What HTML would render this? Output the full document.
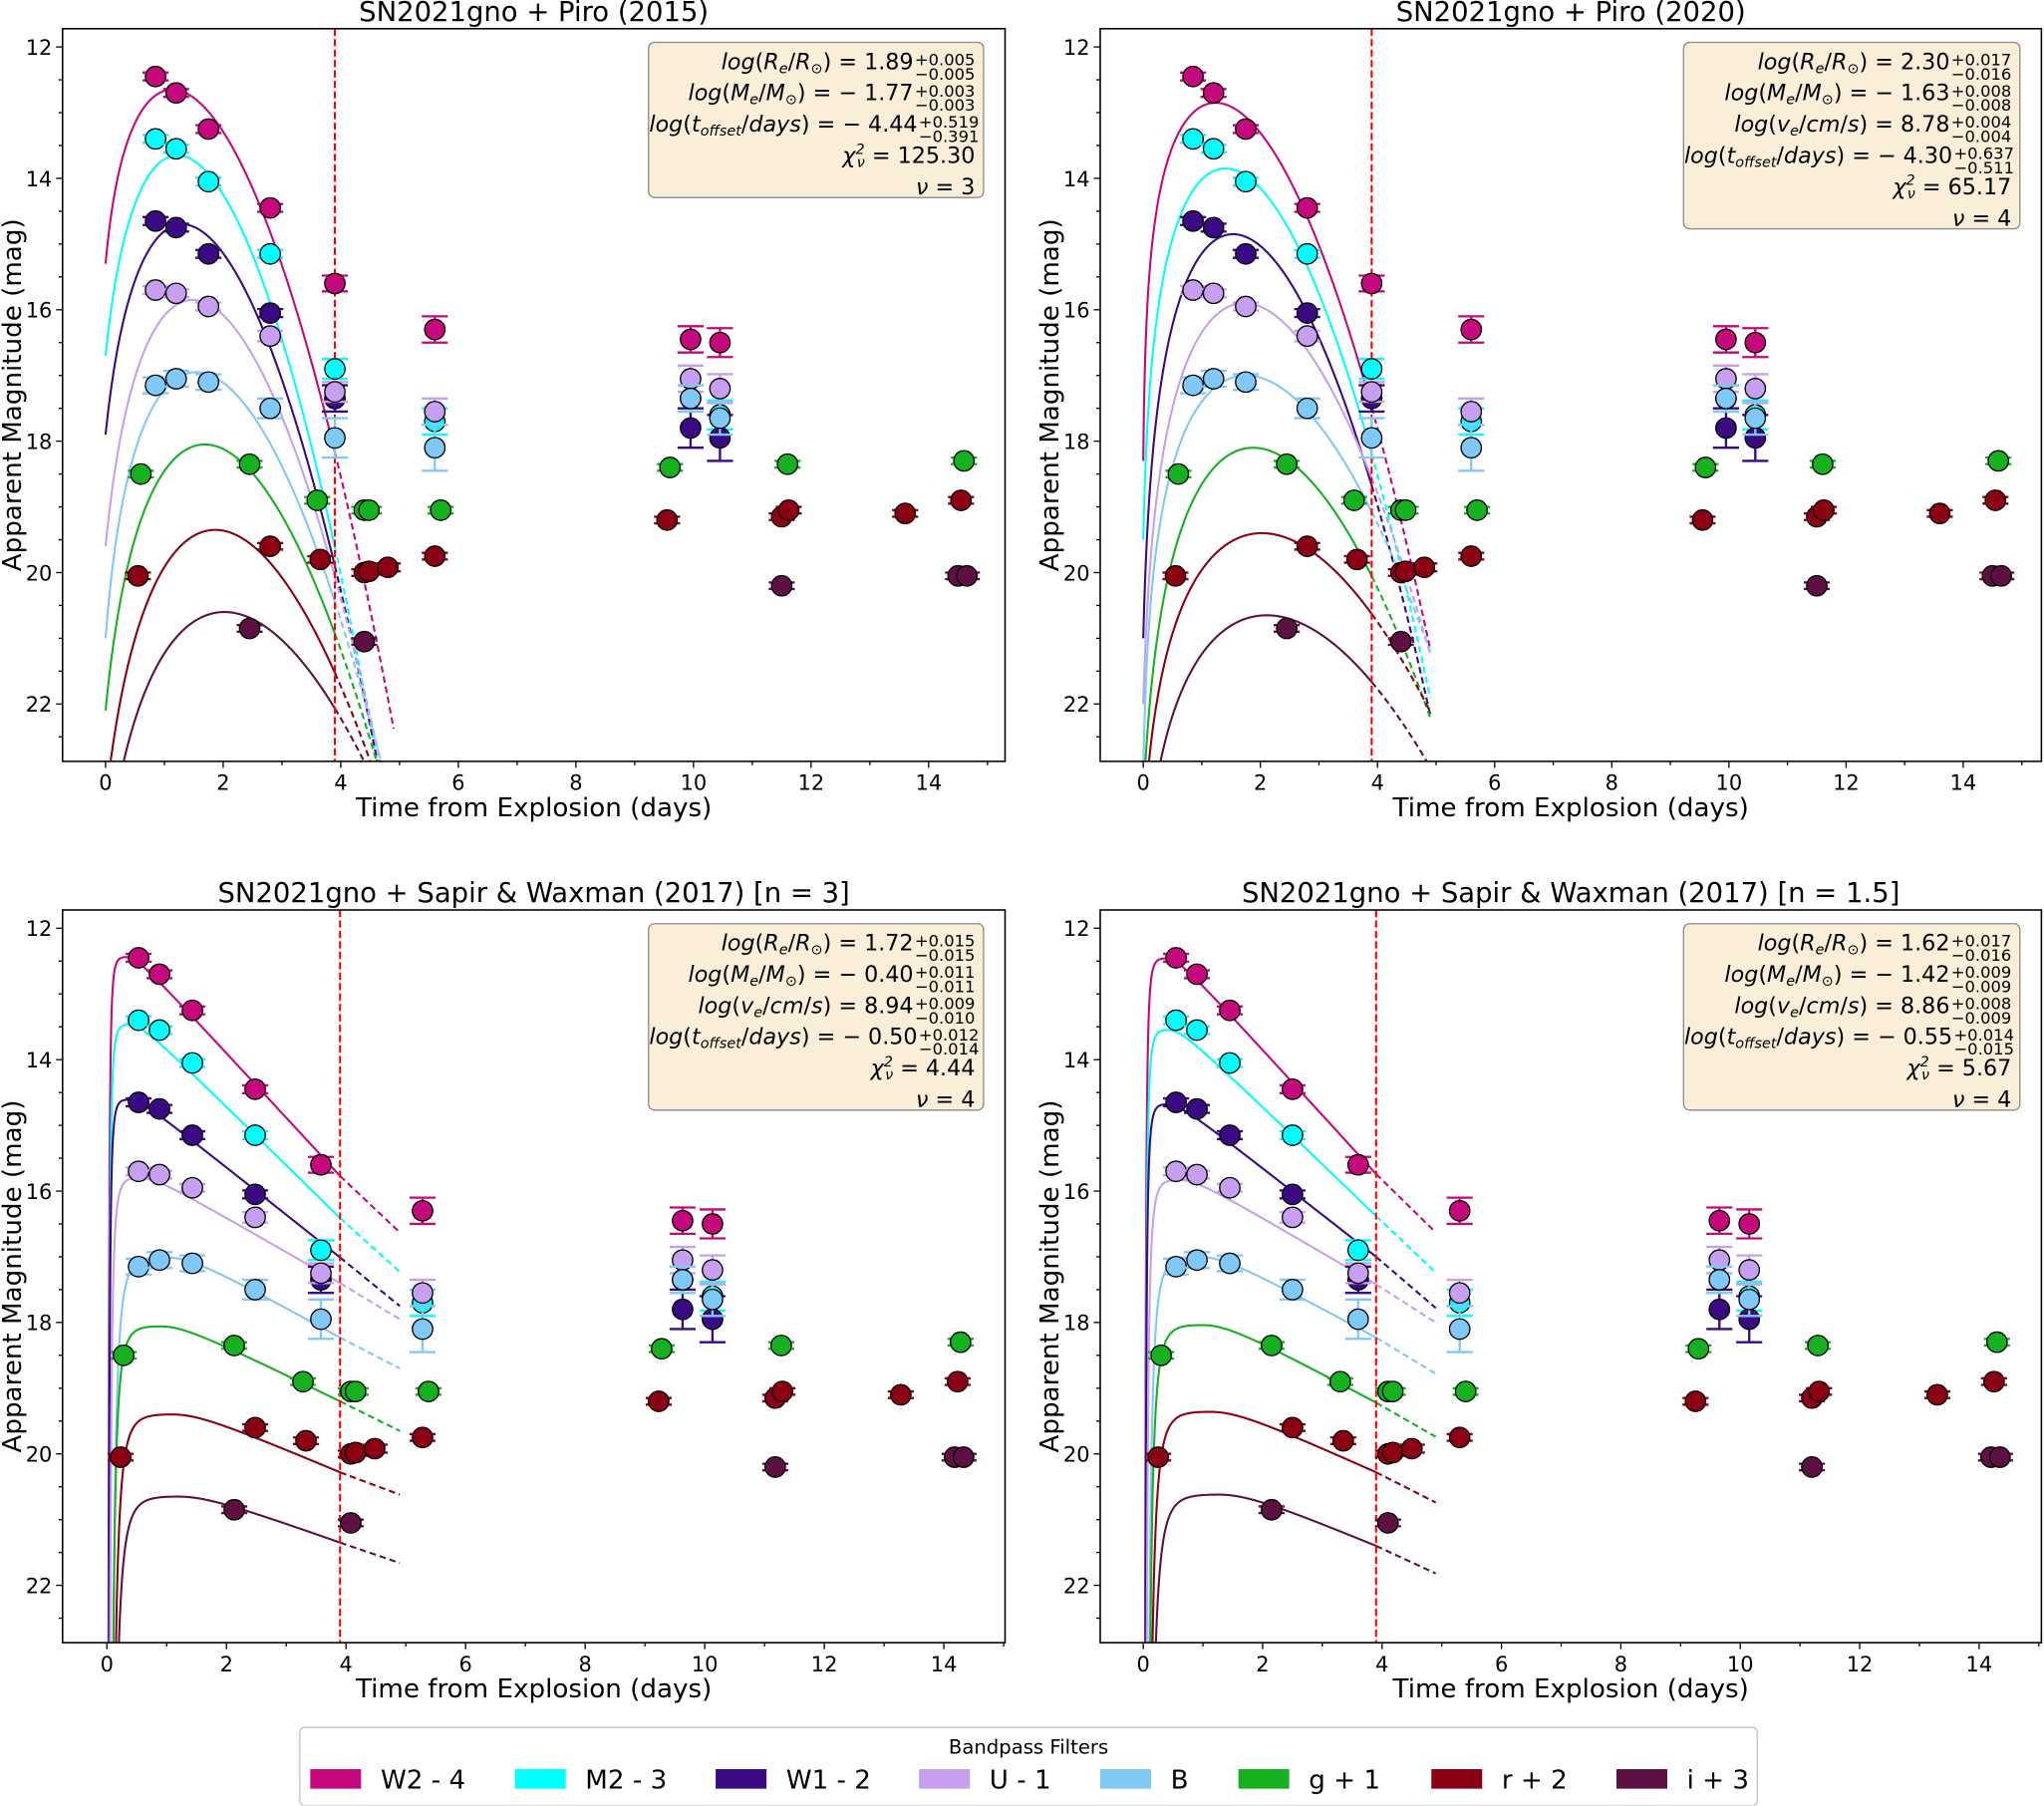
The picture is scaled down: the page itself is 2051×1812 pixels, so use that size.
<!DOCTYPE html>
<html><head><meta charset="utf-8">
<style>
html,body{margin:0;padding:0;background:#fff;}
body{width:2051px;height:1811px;overflow:hidden;position:relative;}
#wrap{position:absolute;left:0;top:0;width:1568px;height:1385px;transform:scale(1.30804);transform-origin:0 0;font-family:"DejaVu Sans","Liberation Sans",sans-serif;}
svg{position:absolute;left:0;top:0;}
.box{position:absolute;background:#faeed9;border:1.3px solid #8a8a8a;border-radius:5px;box-sizing:border-box;text-align:right;padding:3px 6px 0 0;font-size:17px;line-height:24px;color:#000;white-space:nowrap;}
.box i{font-style:italic;}
.ud{display:inline-flex;flex-direction:column;font-size:12.5px;line-height:11px;vertical-align:3px;text-align:left;margin-left:1px;}
.ln{height:24px;}
sub.s{font-size:11px;vertical-align:-3px;line-height:0;}
sup.s{font-size:11px;vertical-align:7px;line-height:0;}
</style></head><body>
<div id="wrap">
<svg id="sv" width="1568" height="1385" viewBox="0 0 1568 1385" xmlns="http://www.w3.org/2000/svg"></svg>

<div class="box" style="left:497px;top:32px;width:258px;height:120px;">
<div class="ln"><i>log</i>(<i>R<sub class="s">e</sub></i>/<i>R</i><sub class="s">⊙</sub>) = 1.89<span class="ud"><span>+0.005</span><span>−0.005</span></span></div>
<div class="ln"><i>log</i>(<i>M<sub class="s">e</sub></i>/<i>M</i><sub class="s">⊙</sub>) = − 1.77<span class="ud"><span>+0.003</span><span>−0.003</span></span></div>
<div class="ln"><i>log</i>(<i>t<sub class="s">offset</sub></i>/<i>days</i>) = − 4.44<span class="ud"><span>+0.519</span><span>−0.391</span></span></div>
<div class="ln"><i>χ<sup class="s">2</sup><sub class="s" style="margin-left:-6px">ν</sub></i> = 125.30</div>
<div class="ln"><i>ν</i> = 3</div>
</div>

<div class="box" style="left:1291px;top:32px;width:259px;height:144px;">
<div class="ln"><i>log</i>(<i>R<sub class="s">e</sub></i>/<i>R</i><sub class="s">⊙</sub>) = 2.30<span class="ud"><span>+0.017</span><span>−0.016</span></span></div>
<div class="ln"><i>log</i>(<i>M<sub class="s">e</sub></i>/<i>M</i><sub class="s">⊙</sub>) = − 1.63<span class="ud"><span>+0.008</span><span>−0.008</span></span></div>
<div class="ln"><i>log</i>(<i>v<sub class="s">e</sub></i>/<i>cm</i>/<i>s</i>) = 8.78<span class="ud"><span>+0.004</span><span>−0.004</span></span></div>
<div class="ln"><i>log</i>(<i>t<sub class="s">offset</sub></i>/<i>days</i>) = − 4.30<span class="ud"><span>+0.637</span><span>−0.511</span></span></div>
<div class="ln"><i>χ<sup class="s">2</sup><sub class="s" style="margin-left:-6px">ν</sub></i> = 65.17</div>
<div class="ln"><i>ν</i> = 4</div>
</div>

<div class="box" style="left:497px;top:708px;width:258px;height:144px;">
<div class="ln"><i>log</i>(<i>R<sub class="s">e</sub></i>/<i>R</i><sub class="s">⊙</sub>) = 1.72<span class="ud"><span>+0.015</span><span>−0.015</span></span></div>
<div class="ln"><i>log</i>(<i>M<sub class="s">e</sub></i>/<i>M</i><sub class="s">⊙</sub>) = − 0.40<span class="ud"><span>+0.011</span><span>−0.011</span></span></div>
<div class="ln"><i>log</i>(<i>v<sub class="s">e</sub></i>/<i>cm</i>/<i>s</i>) = 8.94<span class="ud"><span>+0.009</span><span>−0.010</span></span></div>
<div class="ln"><i>log</i>(<i>t<sub class="s">offset</sub></i>/<i>days</i>) = − 0.50<span class="ud"><span>+0.012</span><span>−0.014</span></span></div>
<div class="ln"><i>χ<sup class="s">2</sup><sub class="s" style="margin-left:-6px">ν</sub></i> = 4.44</div>
<div class="ln"><i>ν</i> = 4</div>
</div>

<div class="box" style="left:1291px;top:708px;width:259px;height:144px;">
<div class="ln"><i>log</i>(<i>R<sub class="s">e</sub></i>/<i>R</i><sub class="s">⊙</sub>) = 1.62<span class="ud"><span>+0.017</span><span>−0.016</span></span></div>
<div class="ln"><i>log</i>(<i>M<sub class="s">e</sub></i>/<i>M</i><sub class="s">⊙</sub>) = − 1.42<span class="ud"><span>+0.009</span><span>−0.009</span></span></div>
<div class="ln"><i>log</i>(<i>v<sub class="s">e</sub></i>/<i>cm</i>/<i>s</i>) = 8.86<span class="ud"><span>+0.008</span><span>−0.009</span></span></div>
<div class="ln"><i>log</i>(<i>t<sub class="s">offset</sub></i>/<i>days</i>) = − 0.55<span class="ud"><span>+0.014</span><span>−0.015</span></span></div>
<div class="ln"><i>χ<sup class="s">2</sup><sub class="s" style="margin-left:-6px">ν</sub></i> = 5.67</div>
<div class="ln"><i>ν</i> = 4</div>
</div>
</div>

<script>
(function(){
var sv=document.getElementById('sv');
var out=[];
var C={W2:'#c5087c',M2:'#00ffff',W1:'#3a0a85',U:'#c6a0ee',B:'#80c8f6',g:'#16b020',r:'#8b0012',i:'#5e1042'};
var bands=['W2','M2','W1','U','B','g','r','i'];
var D={
W2:[[0.85,12.45,.06],[1.2,12.7,.06],[1.75,13.25,.06],[2.8,14.45,.06],[3.9,15.6,.12],[5.6,16.3,.2],[9.95,16.45,.2],[10.45,16.5,.22]],
M2:[[0.85,13.4,.06],[1.2,13.55,.06],[1.75,14.05,.06],[2.8,15.15,.06],[3.9,16.9,.15],[5.6,17.7,.2],[9.95,17.35,.2],[10.45,17.6,.22]],
W1:[[0.85,14.65,.06],[1.2,14.75,.06],[1.75,15.15,.06],[2.8,16.05,.06],[3.9,17.35,.2],[9.95,17.8,.3],[10.45,17.95,.35]],
U:[[0.85,15.7,.06],[1.2,15.75,.06],[1.75,15.95,.06],[2.8,16.4,.08],[3.9,17.25,.15],[5.6,17.55,.2],[9.95,17.05,.2],[10.45,17.2,.22]],
B:[[0.85,17.15,.12],[1.2,17.05,.12],[1.75,17.1,.12],[2.8,17.5,.15],[3.9,17.95,.3],[5.6,18.1,.35],[9.95,17.35,.2],[10.45,17.65,.25]],
g:[[0.6,18.5,.05],[2.45,18.35,.05],[3.6,18.9,.05],[4.4,19.05,.05],[4.48,19.05,.05],[5.7,19.05,.05],[9.6,18.4,.05],[11.6,18.35,.05],[14.6,18.3,.05]],
r:[[0.55,20.05,.05],[2.8,19.6,.05],[3.65,19.8,.05],[4.4,20.0,.05],[4.48,19.98,.05],[4.8,19.92,.06],[5.6,19.75,.05],[9.55,19.2,.05],[11.5,19.15,.05],[11.62,19.05,.05],[13.6,19.1,.05],[14.55,18.9,.05]],
i:[[2.45,20.85,.05],[4.4,21.05,.05],[11.5,20.2,.05],[14.5,20.05,.05],[14.65,20.05,.05]]
};
var P=[
{L:48,R:771,T:22,B:584,x0:81,xs:45.1,y12:36,ys:50.4,shift:0,title:'SN2021gno + Piro (2015)',type:'piro',
 par:{W2:[12.65,1.3,21.6,15.3],M2:[13.65,1.5,22.9,16.7],W1:[14.7,1.6,22.8,17.9],U:[15.85,1.8,22.5,19.6],B:[16.95,1.75,22.9,21.0],g:[18.05,2.0,22.8,22.1],r:[19.35,2.25,22.9,23.5],i:[20.6,2.4,23.1,24.5]}},
{L:844,R:1566,T:22,B:584,x0:877,xs:44.93,y12:36,ys:50.4,shift:0,title:'SN2021gno + Piro (2020)',type:'piro',
 par:{W2:[12.85,1.25,21.1,18.3],M2:[13.85,1.45,21.7,19.5],W1:[14.85,1.6,21.9,21],U:[15.9,1.8,21.0,22],B:[17.0,1.8,21.1,23],g:[18.1,2.0,21.9,23.5],r:[19.4,2.15,21.9,24],i:[20.65,2.25,22.75,25]}},
{L:48,R:771,T:698,B:1260,x0:82,xs:45.86,y12:712,ys:50.4,shift:-0.32,title:'SN2021gno + Sapir & Waxman (2017) [n = 3]',type:'sw',
 par:{W2:[12.44,0.32,15.77,16.63],M2:[13.47,0.38,16.41,17.23],W1:[14.61,0.36,17.01,17.75],U:[15.8,0.55,17.4,17.95],B:[17.01,1.0,18.23,18.7],g:[18.06,0.9,19.2,19.65],r:[19.4,1.1,20.28,20.62],i:[20.65,1.2,21.35,21.66]}},
{L:844,R:1566,T:698,B:1260,x0:877,xs:45.8,y12:712,ys:50.4,shift:-0.3,title:'SN2021gno + Sapir & Waxman (2017) [n = 1.5]',type:'sw',
 par:{W2:[12.46,0.38,15.74,16.63],M2:[13.55,0.42,16.38,17.24],W1:[14.68,0.4,17.0,17.78],U:[15.83,0.6,17.42,18.0],B:[17.0,0.94,18.23,18.78],g:[18.04,1.0,19.22,19.74],r:[19.36,1.13,20.28,20.74],i:[20.62,1.27,21.4,21.82]}}
];
function piroG(x){return 0.2171*(x*x-1)-Math.log10(x);}
P.forEach(function(p,k){
 var X=function(t){return p.x0+t*p.xs;}, Y=function(m){return p.y12+(m-12)*p.ys;};
 out.push('<clipPath id="c'+k+'"><rect x="'+p.L+'" y="'+p.T+'" width="'+(p.R-p.L)+'" height="'+(p.B-p.T)+'"/></clipPath>');
 out.push('<g clip-path="url(#c'+k+')">');
 bands.forEach(function(b){
  var a=p.par[b], f, ts=[];
  if(p.type=='piro'){
   var mp=a[0],tp=a[1],alpha=(a[2]-mp)/(2.5*piroG(4.9/tp));
   var mg=function(t){return mp+2.5*alpha*piroG(t/tp);};
   var lo=1e-6,hi=tp;
   for(var n=0;n<60;n++){var mid=(lo+hi)/2; if(mg(mid)>a[3])lo=mid;else hi=mid;}
   var t0=lo; f=function(t){return mg(t+t0);};
   for(var j=0;j<=400;j++)ts.push(3.9*j/400);
   var fd=f;
  } else {
   var mp=a[0],tp=a[1],m39=a[2],m49=a[3],w=0.5*tp+0.05,kk=0.09;
   var s=(m39-mp)/(Math.sqrt((3.9-tp)*(3.9-tp)+w*w)-w);
   f=function(t){ if(t<tp){var q=tp/t-1;return mp+kk*q*q;} var d=t-tp;return mp+s*(Math.sqrt(d*d+w*w)-w);};
   var fd=function(t){return m39+(m49-m39)*(t-3.9);};
   for(var j=0;j<=150;j++)ts.push(0.004*Math.pow(tp/0.004,j/150));
   for(var j=1;j<=300;j++)ts.push(tp+(3.9-tp)*j/300);
  }
  var pts=ts.map(function(t){return X(t).toFixed(2)+','+Math.min(Y(f(t)),p.B+50).toFixed(2);});
  var dp=[];
  for(var j=0;j<=50;j++){var t=3.9+j/50;dp.push(X(t).toFixed(2)+','+Math.min(Y(fd(t)),p.B+50).toFixed(2));}
  out.push('<polyline points="'+pts.join(' ')+'" fill="none" stroke="'+C[b]+'" stroke-width="1.6"/>');
  out.push('<polyline points="'+dp.join(' ')+'" fill="none" stroke="'+C[b]+'" stroke-width="1.6" stroke-dasharray="5,3"/>');
 });
 out.push('<line x1="'+X(3.9)+'" y1="'+p.T+'" x2="'+X(3.9)+'" y2="'+p.B+'" stroke="#ff0000" stroke-width="1.6" stroke-dasharray="5.5,2.5"/>');
 bands.forEach(function(b){
  D[b].forEach(function(d){
   var x=X(d[0]+p.shift),y=Y(d[1]),e=d[2]*p.ys;
   out.push('<line x1="'+x+'" y1="'+(y-e)+'" x2="'+x+'" y2="'+(y+e)+'" stroke="'+C[b]+'" stroke-width="1.8"/>');
   out.push('<line x1="'+(x-10)+'" y1="'+(y-e)+'" x2="'+(x+10)+'" y2="'+(y-e)+'" stroke="'+C[b]+'" stroke-width="1.8"/>');
   out.push('<line x1="'+(x-10)+'" y1="'+(y+e)+'" x2="'+(x+10)+'" y2="'+(y+e)+'" stroke="'+C[b]+'" stroke-width="1.8"/>');
   out.push('<circle cx="'+x+'" cy="'+y+'" r="7.8" fill="'+C[b]+'" stroke="#000" stroke-width="1"/>');
  });
 });
 out.push('</g>');
 out.push('<rect x="'+p.L+'" y="'+p.T+'" width="'+(p.R-p.L)+'" height="'+(p.B-p.T)+'" fill="none" stroke="#000" stroke-width="1.2"/>');
 for(var mm=24;mm<=45;mm++){
  var m=mm/2, y=Y(m); if(y>p.B||y<p.T)continue;
  var maj=(mm%4==0), len=maj?5:3;
  out.push('<line x1="'+(p.L-len)+'" y1="'+y+'" x2="'+p.L+'" y2="'+y+'" stroke="#000" stroke-width="1"/>');
  if(maj)out.push('<text x="'+(p.L-8)+'" y="'+(y+6)+'" font-size="16" text-anchor="end">'+m+'</text>');
 }
 for(var t=0;t<=15;t++){
  var x=X(t), len=(t%2==0)?5:3; if(x>p.R)continue;
  out.push('<line x1="'+x+'" y1="'+p.B+'" x2="'+x+'" y2="'+(p.B+len)+'" stroke="#000" stroke-width="1"/>');
  if(t%2==0)out.push('<text x="'+x+'" y="'+(p.B+22)+'" font-size="16" text-anchor="middle">'+t+'</text>');
 }
 var cx=(p.L+p.R)/2, cy=(p.T+p.B)/2;
 out.push('<text x="'+cx+'" y="'+(p.T-6)+'" font-size="21" text-anchor="middle">'+p.title.replace('&','&amp;')+'</text>');
 out.push('<text x="'+cx+'" y="'+(p.B+42)+'" font-size="20" text-anchor="middle">Time from Explosion (days)</text>');
 out.push('<text transform="translate('+(p.L-32)+','+cy+') rotate(-90)" font-size="20" text-anchor="middle">Apparent Magnitude (mag)</text>');
});
out.push('<rect x="230" y="1325" width="1118" height="60" rx="4" fill="#fff" stroke="#cccccc" stroke-width="1.2"/>');
out.push('<text x="789" y="1345" font-size="15" text-anchor="middle">Bandpass Filters</text>');
var L=[['W2','W2 - 4',238],['M2','M2 - 3',395],['W1','W1 - 2',549],['U','U - 1',705],['B','B',844],['g','g + 1',950],['r','r + 2',1098],['i','i + 3',1240]];
L.forEach(function(l){
 out.push('<rect x="'+l[2]+'" y="1357" width="39" height="15" fill="'+C[l[0]]+'"/>');
 out.push('<text x="'+(l[2]+54)+'" y="1372" font-size="20">'+l[1]+'</text>');
});
sv.innerHTML=out.join('');
})();
</script>
</body></html>
